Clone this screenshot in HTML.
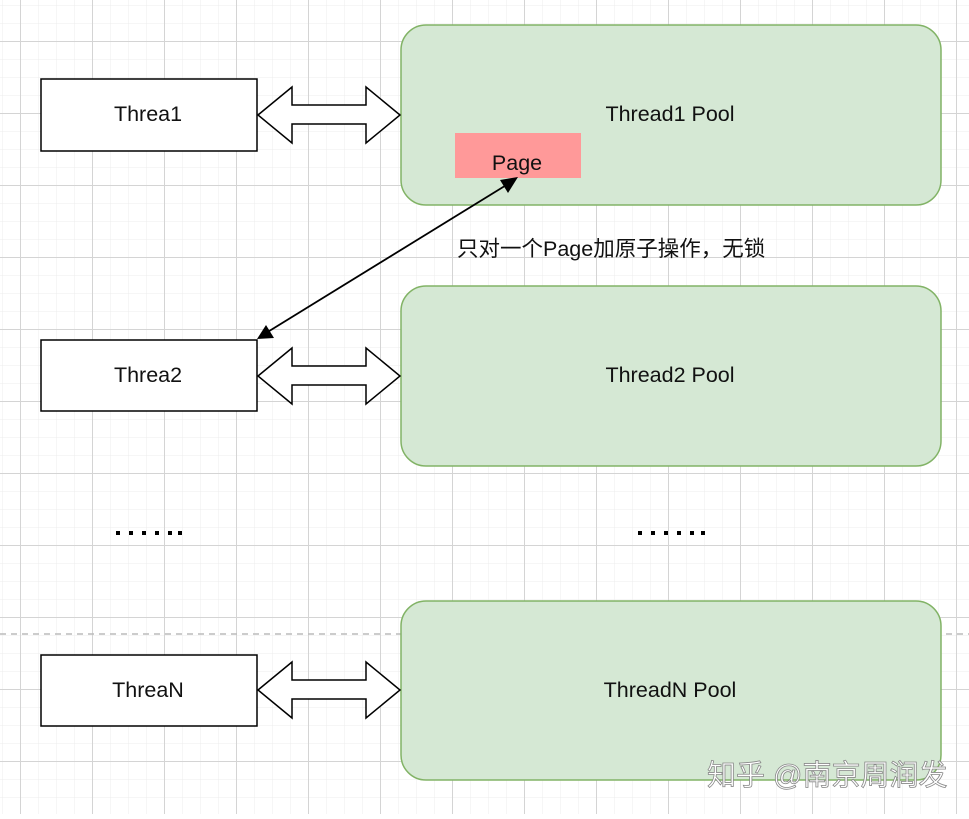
<!DOCTYPE html>
<html><head><meta charset="utf-8"><style>
html,body{margin:0;padding:0;background:#fff;}
body{width:969px;height:814px;overflow:hidden;}
</style></head><body>
<svg width="969" height="814" xmlns="http://www.w3.org/2000/svg" font-family="'Liberation Sans','Noto Sans CJK SC',sans-serif">
<defs>
<pattern id="minor" x="2" y="5" width="18" height="18" patternUnits="userSpaceOnUse"><path d="M0 0H18M0 0V18" stroke="#ececec" stroke-width="1" fill="none"/></pattern>
<pattern id="major" x="20" y="41" width="72" height="72" patternUnits="userSpaceOnUse"><path d="M0 0.5H72M0.5 0V72" stroke="#d4d4d4" stroke-width="1" fill="none"/></pattern>
</defs>
<rect width="969" height="814" fill="url(#minor)"/>
<rect width="969" height="814" fill="url(#major)"/>
<line x1="0" y1="634" x2="969" y2="634" stroke="#bbb" stroke-width="1.5" stroke-dasharray="6,5"/>

<g fill="#d5e8d4" stroke="#82b366" stroke-width="1.5">
<rect x="401" y="25" width="540" height="180" rx="25"/>
<rect x="401" y="286" width="540" height="180" rx="25"/>
<rect x="401" y="601" width="540" height="179" rx="25"/>
</g>
<rect x="455" y="133" width="126" height="45" fill="#ff9999"/>

<g fill="#fff" stroke="#000" stroke-width="1.5">
<rect x="41" y="79" width="216" height="72"/>
<rect x="41" y="340" width="216" height="71"/>
<rect x="41" y="655" width="216" height="71"/>
</g>
<g fill="#fff" stroke="#000" stroke-width="1.5">
<path d="M258 115 L292 87 L292 105 L366 105 L366 87 L400 115 L366 143 L366 124 L292 124 L292 143 Z"/>
<path d="M258 376 L292 348 L292 366 L366 366 L366 348 L400 376 L366 404 L366 385 L292 385 L292 404 Z"/>
<path d="M258 690 L292 662 L292 680 L366 680 L366 662 L400 690 L366 718 L366 699 L292 699 L292 718 Z"/>
</g>

<line x1="266" y1="333" x2="508" y2="184" stroke="#000" stroke-width="1.8"/>
<path d="M518 177 L500 180 L508 193 Z" fill="#000"/>
<path d="M257 339 L266 325 L274 338 Z" fill="#000"/>

<g font-size="21.5" fill="#111" text-anchor="middle">
<text x="148" y="121">Threa1</text>
<text x="148" y="382">Threa2</text>
<text x="148" y="697">ThreaN</text>
<text x="670" y="121">Thread1 Pool</text>
<text x="670" y="382">Thread2 Pool</text>
<text x="670" y="697">ThreadN Pool</text>
<text x="517" y="170">Page</text>
</g>
<text x="457" y="256" font-size="21.5" fill="#111">只对一个Page加原子操作，无锁</text>

<g fill="#000">
<rect x="116" y="531" width="4" height="4"/><rect x="129" y="531" width="4" height="4"/><rect x="142" y="531" width="4" height="4"/><rect x="155" y="531" width="4" height="4"/><rect x="168" y="531" width="4" height="4"/><rect x="178" y="531" width="4" height="4"/>
<rect x="638" y="531" width="4" height="4"/><rect x="651" y="531" width="4" height="4"/><rect x="664" y="531" width="4" height="4"/><rect x="677" y="531" width="4" height="4"/><rect x="690" y="531" width="4" height="4"/><rect x="701" y="531" width="4" height="4"/>
</g>

<text x="707" y="785" font-size="29" fill="#fff" stroke="#888" stroke-width="0.8">知乎 @南京周润发</text>
</svg>
</body></html>
